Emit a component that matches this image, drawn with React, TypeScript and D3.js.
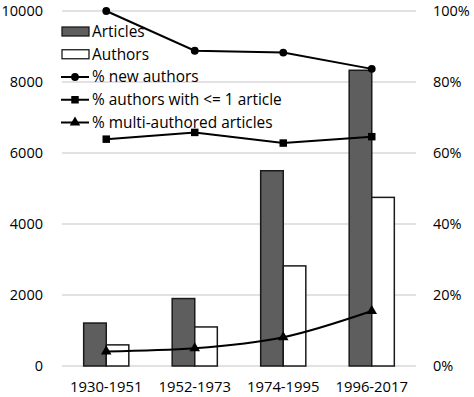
import React, { useRef, useEffect } from "react";
import * as d3 from "d3";

const periods = ["1930-1951", "1952-1973", "1974-1995", "1996-2017"];
const articles = [1210, 1900, 5500, 8330];
const authors = [595, 1100, 2820, 4750];
const pctNewAuthors = [100, 88.8, 88.3, 83.7];
const pctOneArticle = [63.9, 65.8, 62.8, 64.6];
const pctMultiAuthored = [4.1, 5.0, 8.1, 15.5];
const leftTicks = [0, 2000, 4000, 6000, 8000, 10000];
const rightTicks = [0, 20, 40, 60, 80, 100];

const FONT = "'Open Sans', sans-serif";

export default function App() {
  const svgRef = useRef<SVGSVGElement>(null);

  useEffect(() => {
    const svg = d3.select(svgRef.current);
    svg.selectAll("*").remove();

    const width = 474;
    const height = 397;
    const margin = { top: 11, right: 58, bottom: 31, left: 62 };

    svg.attr("width", width).attr("height", height);

    const x = d3
      .scaleBand()
      .domain(periods)
      .range([margin.left, width - margin.right]);
    const y = d3
      .scaleLinear()
      .domain([0, 10000])
      .range([height - margin.bottom, margin.top]);
    const yPct = d3
      .scaleLinear()
      .domain([0, 100])
      .range([height - margin.bottom, margin.top]);

    const barW = x.bandwidth() * 0.255;
    const cx = (d: string) => x(d)! + x.bandwidth() / 2;

    // gridlines
    svg
      .append("g")
      .selectAll("line")
      .data(leftTicks)
      .join("line")
      .attr("x1", margin.left)
      .attr("x2", width - margin.right)
      .attr("y1", (d) => y(d))
      .attr("y2", (d) => y(d))
      .attr("stroke", "#d9d9d9")
      .attr("stroke-width", 1.3);

    // left tick labels
    svg
      .append("g")
      .selectAll("text")
      .data(leftTicks)
      .join("text")
      .attr("x", 43)
      .attr("y", (d) => y(d))
      .attr("dy", "0.35em")
      .attr("text-anchor", "end")
      .attr("font-family", FONT)
      .attr("font-size", 14.5)
      .text((d) => d);

    // right tick labels
    svg
      .append("g")
      .selectAll("text")
      .data(rightTicks)
      .join("text")
      .attr("x", 433)
      .attr("y", (d) => yPct(d))
      .attr("dy", "0.35em")
      .attr("text-anchor", "start")
      .attr("font-family", FONT)
      .attr("font-size", 14.5)
      .text((d) => d + "%");

    // x labels
    svg
      .append("g")
      .selectAll("text")
      .data(periods)
      .join("text")
      .attr("x", (d) => cx(d))
      .attr("y", 392)
      .attr("text-anchor", "middle")
      .attr("font-family", FONT)
      .attr("font-size", 14.8)
      .text((d) => d);

    // bars
    svg
      .append("g")
      .selectAll("rect")
      .data(periods)
      .join("rect")
      .attr("x", (d) => cx(d) - barW)
      .attr("y", (d, i) => y(articles[i]))
      .attr("width", barW)
      .attr("height", (d, i) => y(0) - y(articles[i]))
      .attr("fill", "#5e5e5e")
      .attr("stroke", "#1a1a1a")
      .attr("stroke-width", 1.5);

    svg
      .append("g")
      .selectAll("rect")
      .data(periods)
      .join("rect")
      .attr("x", (d) => cx(d))
      .attr("y", (d, i) => y(authors[i]))
      .attr("width", barW)
      .attr("height", (d, i) => y(0) - y(authors[i]))
      .attr("fill", "#ffffff")
      .attr("stroke", "#1a1a1a")
      .attr("stroke-width", 1.5);

    // lines
    const series = [
      { values: pctNewAuthors, marker: d3.symbolCircle, size: 48, curve: d3.curveLinear },
      { values: pctOneArticle, marker: d3.symbolSquare, size: 56, curve: d3.curveLinear },
      { values: pctMultiAuthored, marker: d3.symbolTriangle, size: 48, curve: d3.curveMonotoneX },
    ];

    series.forEach((s) => {
      const line = d3
        .line<number>()
        .curve(s.curve)
        .x((d, i) => cx(periods[i]))
        .y((d) => yPct(d));
      svg
        .append("path")
        .datum(s.values)
        .attr("fill", "none")
        .attr("stroke", "#000")
        .attr("stroke-width", 2)
        .attr("d", line);
      svg
        .append("g")
        .selectAll("path")
        .data(s.values)
        .join("path")
        .attr("transform", (d, i) => `translate(${cx(periods[i])},${yPct(d)})`)
        .attr("d", d3.symbol(s.marker, s.size)())
        .attr("fill", "#000");
    });

    // legend
    const legend = svg.append("g");
    const legendItems = [
      { label: "Articles", type: "bar", fill: "#5e5e5e" },
      { label: "Authors", type: "bar", fill: "#ffffff" },
      { label: "% new authors", type: "line", marker: d3.symbolCircle, size: 48 },
      { label: "% authors with <= 1 article", type: "line", marker: d3.symbolSquare, size: 56 },
      { label: "% multi-authored articles", type: "line", marker: d3.symbolTriangle, size: 48 },
    ];
    const legendY = d3.scalePoint<number>().domain([0, 1, 2, 3, 4]).range([31.5, 122.5]);

    legendItems.forEach((item, i) => {
      const ly = legendY(i)!;
      if (item.type === "bar") {
        legend
          .append("rect")
          .attr("x", 62)
          .attr("y", ly - 4.5)
          .attr("width", 27)
          .attr("height", 9)
          .attr("fill", item.fill!)
          .attr("stroke", "#1a1a1a")
          .attr("stroke-width", 1.3);
      } else {
        legend
          .append("line")
          .attr("x1", 61)
          .attr("x2", 89)
          .attr("y1", ly)
          .attr("y2", ly)
          .attr("stroke", "#000")
          .attr("stroke-width", 2);
        legend
          .append("path")
          .attr("transform", `translate(75,${ly})`)
          .attr("d", d3.symbol(item.marker!, item.size)())
          .attr("fill", "#000");
      }
      legend
        .append("text")
        .attr("x", 92)
        .attr("y", ly)
        .attr("dy", "0.35em")
        .attr("font-family", FONT)
        .attr("font-size", 15.4)
        .text(item.label);
    });
  }, []);

  return (
    <svg
      ref={svgRef}
      style={{ position: "absolute", left: 0, top: 0, background: "#fff" }}
    ></svg>
  );
}
